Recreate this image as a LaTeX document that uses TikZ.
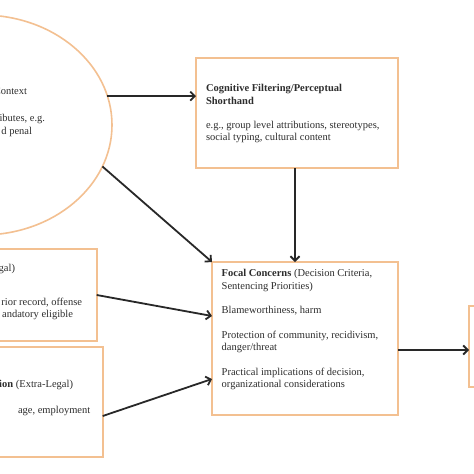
\documentclass[tikz,border=0pt]{standalone}
\usepackage{fontspec}
\setmainfont{Liberation Serif}
\usetikzlibrary{shapes.geometric,arrows.meta,calc}
\definecolor{boxline}{RGB}{243,192,145}
\definecolor{arrowc}{RGB}{40,40,40}
\definecolor{textc}{RGB}{45,45,45}
\begin{document}
\begin{tikzpicture}[x=1pt,y=-1pt,
  box/.style={draw=boxline, line width=1.6pt, rectangle, inner sep=0pt, outer sep=0pt},
  oval/.style={draw=boxline, line width=1.6pt, ellipse, inner sep=0pt, outer sep=0pt},
  txt/.style={inner sep=0pt, outer sep=0pt, align=left, text=textc,
    font=\fontsize{10.5}{12.3}\selectfont},
  arr/.style={draw=arrowc, line width=1.8pt, -{Straight Barb[length=4.5pt,width=9pt]}}]
\useasboundingbox (0,0) rectangle (474,474);
\fill[white] (0,0) rectangle (474,474);

% shapes
\node[oval, minimum width=260, minimum height=220] (ctx) at (-18,125) {};
\node[box, minimum width=202, minimum height=110] (cog) at (297,113) {};
\node[box, minimum width=186, minimum height=153] (foc) at (305,338.5) {};
\node[box, minimum width=60, minimum height=81] (out) at (499,346.5) {};
\node[box, minimum width=196.7, minimum height=92] (leg) at (-1.65,295) {};
\node[box, minimum width=202.7, minimum height=110] (ext) at (1.35,402) {};

% texts
\node[txt, anchor=base east] (t1) at (27,94.5) {Context};
\node[txt, anchor=base east] (t2) at (45,121) {ibutes, e.g.};
\node[txt, anchor=base east] (t3) at (32,134) {d penal};

\node[txt, anchor=north west] (t4) at (206,84.5)
  {\textbf{Cognitive Filtering/Perceptual}\\\textbf{Shorthand}\\[12.3pt]
   e.g., group level attributions, stereotypes,\\social typing, cultural content};

\node[txt, anchor=north west] (t5) at (221.7,269.5)
  {\textbf{Focal Concerns} (Decision Criteria,\\Sentencing Priorities)\\[12.3pt]
   Blameworthiness, harm\\[12.3pt]
   Protection of community, recidivism,\\danger/threat\\[12.3pt]
   Practical implications of decision,\\organizational considerations};

\node[txt, anchor=base east] (t6) at (15,271) {gal)};
\node[txt, anchor=base east] (t7) at (82,305) {rior record, offense};
\node[txt, anchor=base east] (t8) at (73,317) {andatory eligible};

\node[txt, anchor=base east] (t9) at (73,387) {\textbf{ion} (Extra-Legal)};
\node[txt, anchor=base west] (t10) at (18,413) {age, employment};

% connector end points
\coordinate (c1) at (ctx.13.5);
\coordinate (c2) at (ctx.-19);
\coordinate (f1) at ($(foc.west)+(0,-22.5)$);
\coordinate (e1) at ($(ext.east)+(0,14)$);
\coordinate (f2) at ($(foc.west)+(0,40.5)$);
\coordinate (f3) at ($(foc.east)+(0,11.5)$);

% connectors
\draw[arr] (c1) -- (c1 -| cog.west);
\draw[arr] (c2) -- (foc.north west);
\draw[arr] ([xshift=-2pt]cog.south) -- ([xshift=-2pt]cog.south |- foc.north);
\draw[arr] (leg.east) -- (f1);
\draw[arr] (e1) -- (f2);
\draw[arr] (f3) -- (f3 -| out.west);
\end{tikzpicture}
\end{document}
